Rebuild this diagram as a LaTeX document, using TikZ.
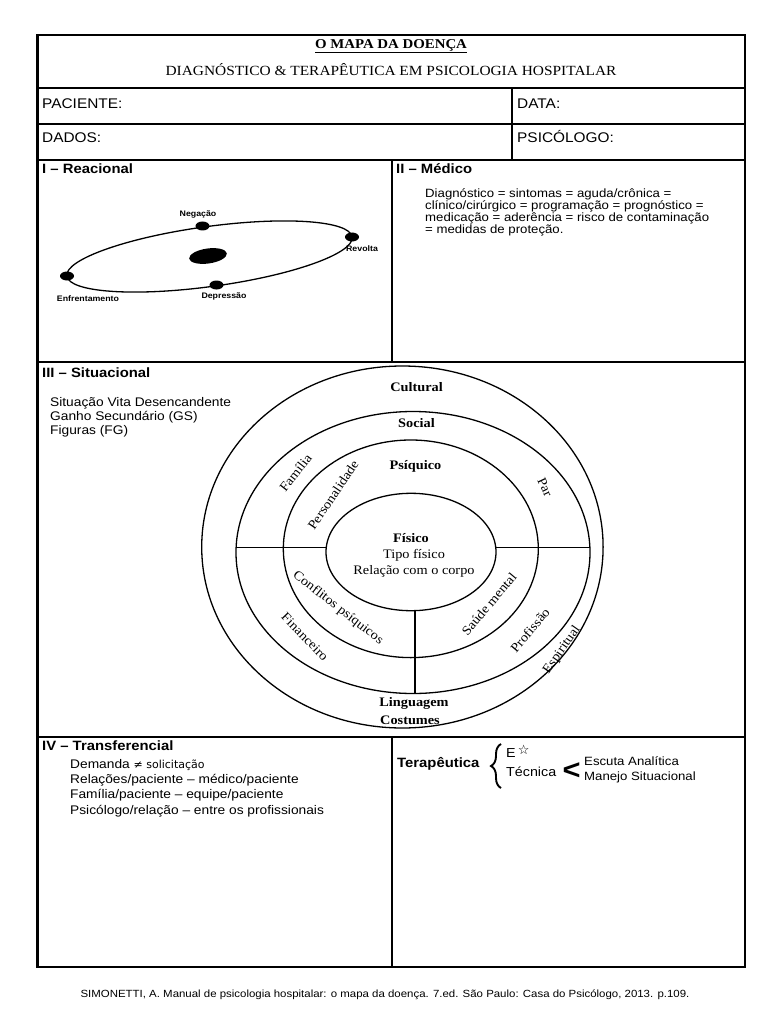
\documentclass[tikz,border=0pt]{standalone}
\usepackage{fontspec}
\setmainfont{Liberation Sans}[FakeStretch=1.1]
\newfontfamily\timesfont{Liberation Serif}[FakeStretch=1.1]
\newfontfamily\dejafont{DejaVu Sans}
\usetikzlibrary{shapes, positioning, calc, decorations.pathreplacing}
\newcommand\tightskip{\lineskiplimit=-6pt\relax}

\begin{document}
\begin{tikzpicture}[
        x=1pt, y=-1pt,
        frame/.style={line width=2.4pt},
        rule/.style={line width=1.6pt},
        ring/.style={line width=1.3pt},
        formtext/.style={anchor=base west, inner sep=0pt, font=\fontsize{14}{16}\selectfont},
        heading/.style={anchor=base west, inner sep=0pt, font=\fontsize{13.5}{16}\selectfont\bfseries},
        bodytext/.style={anchor=base west, inner sep=0pt, align=left},
        phase/.style={inner sep=0pt, font=\fontsize{8}{9}\selectfont\bfseries},
        dot/.style={ellipse, fill=black, minimum width=14pt, minimum height=9pt, inner sep=0pt},
        layer/.style={inner sep=0pt, font=\timesfont\fontsize{13}{15}\selectfont\bfseries},
        item/.style={inner sep=0pt, font=\timesfont\fontsize{13}{15}\selectfont}
    ]
        \useasboundingbox (0,0) rectangle (768,1024);

        % Form frame and rules
        \draw[frame] (37.5,35) rectangle (745,967);
        \draw[rule] (37.5,88) -- (745,88);
        \draw[rule] (37.5,124) -- (745,124);
        \draw[rule] (37.5,160) -- (745,160);
        \draw[rule] (512,88) -- (512,160);
        \draw[rule] (392,160) -- (392,362);
        \draw[rule] (37.5,362) -- (745,362);
        \draw[rule] (37.5,737) -- (745,737);
        \draw[rule] (392,737) -- (392,967);

        % Title
        \node[font=\timesfont\fontsize{13.5}{16}\selectfont\bfseries] (title) at (391,46) {\underline{O MAPA DA DOENÇA}};
        \node[font=\timesfont\fontsize{14}{16}\selectfont] (subtitle) at (391,70) {DIAGNÓSTICO \& TERAPÊUTICA EM PSICOLOGIA HOSPITALAR};

        % Identification fields
        \node[formtext] (paciente) at (42,109) {PACIENTE:};
        \node[formtext] (data) at (517,109) {DATA:};
        \node[formtext] (dados) at (42,143) {DADOS:};
        \node[formtext] (psicologo) at (517,143) {PSICÓLOGO:};

        % I - Reacional
        \node[heading] (reacional) at (42,174) {I – Reacional};
        \coordinate (orbit) at (209.5,256.5);
        \draw[ring, rotate around={7.8:(orbit)}] (orbit) ellipse [x radius=144, y radius=30];
        \node[dot, minimum width=38pt, minimum height=15pt, rotate=8] (core) at (208,256) {};
        \node[dot] (negacao) at (202.5,226) {};
        \node[dot] (revolta) at (352,237) {};
        \node[dot] (enfrent) at (67,276) {};
        \node[dot] (depressao) at (216.5,285) {};
        \node[phase] (negacaolbl) at (198,214) {Negação};
        \node[phase] (revoltalbl) at (362,249) {Revolta};
        \node[phase] (enfrentlbl) at (88,299) {Enfrentamento};
        \node[phase] (depressaolbl) at (224,296) {Depressão};

        % II - Medico (anchor on last baseline)
        \node[heading] (medico) at (396,174) {II – Médico};
        \node[bodytext, font=\fontsize{12}{11.8}\selectfont\tightskip] (medtext) at (425,233.4) {Diagnóstico = sintomas = aguda/crônica =\\clínico/cirúrgico = programação = prognóstico =\\medicação = aderência = risco de contaminação\\= medidas de proteção.};

        % III - Situacional
        \node[heading] (situacional) at (42,377) {III – Situacional};
        \node[bodytext, font=\fontsize{12.5}{14.2}\selectfont\tightskip] (sittext) at (50,434.5) {Situação Vita Desencandente\\Ganho Secundário (GS)\\Figuras (FG)};

        \draw[ring] (402.4,547) ellipse [x radius=200.7, y radius=181];
        \draw[ring] (413,552.5) ellipse [x radius=177, y radius=141];
        \draw[ring] (410.8,548.8) ellipse [x radius=127.5, y radius=108.8];
        \draw[ring] (411,552) ellipse [x radius=85, y radius=58.7];
        \draw[ring] (236,547.7) -- (326,547.7);
        \draw[ring] (496,547.7) -- (590,547.7);
        \draw[ring] (415,610.6) -- (415,693.5);

        \node[layer] (cultural) at (416.5,387) {Cultural};
        \node[layer] (social) at (416.5,423) {Social};
        \node[layer] (psiquico) at (415.5,466) {Psíquico};
        \node[layer] (fisico) at (411,538.5) {Físico};
        \node[item] (tipo) at (414,555) {Tipo físico};
        \node[item] (corpo) at (414,571) {Relação com o corpo};
        \node[item, rotate=52] (familia) at (295.5,473) {Família};
        \node[item, rotate=56] (personal) at (333,495) {Personalidade};
        \node[item, rotate=-65] (par) at (545,487) {Par};
        \node[item, rotate=-38] (conflitos) at (338,608) {Conflitos psíquicos};
        \node[item, rotate=-46] (financeiro) at (305,637) {Financeiro};
        \node[item, rotate=50] (saude) at (489,604) {Saúde mental};
        \node[item, rotate=50] (profissao) at (530,630) {Profissão};
        \node[item, rotate=55] (espiritual) at (562,650) {Espiritual};
        \node[layer] (linguagem) at (414,703.5) {Linguagem};
        \node[layer] (costumes) at (410,720) {Costumes};

        % IV - Transferencial
        \node[heading] (transfer) at (42,750) {IV – Transferencial};
        \node[bodytext, font=\fontsize{12.5}{15.3}\selectfont\tightskip] (transtext) at (70,814) {Demanda {\dejafont\fontsize{11}{13}\selectfont ≠ solicitação}\\Relações/paciente – médico/paciente\\Família/paciente – equipe/paciente\\Psicólogo/relação – entre os profissionais};

        % Terapeutica
        \node[heading] (terap) at (397,767) {Terapêutica};
        \coordinate (bracelow) at (501,788);
        \coordinate (bracetop) at (501,744);
        \draw[line width=1.9pt, decorate, decoration={brace, amplitude=10pt}] (bracelow) -- (bracetop);
        \node[anchor=base west, inner sep=0pt, font=\fontsize{13}{15}\selectfont] (estrela) at (506,757) {E\,{\dejafont\fontsize{13}{13}\selectfont\bfseries\raisebox{2.5pt}{☆}}};
        \node[anchor=base west, inner sep=0pt, font=\fontsize{13}{15}\selectfont] (tecnica) at (506,776) {Técnica};
        \node[inner sep=0pt, font=\fontsize{28}{28}\selectfont\bfseries] (menor) at (571.5,771) {<};
        \node[anchor=base west, inner sep=0pt, font=\fontsize{12}{14}\selectfont] (escuta) at (584,765) {Escuta Analítica};
        \node[anchor=base west, inner sep=0pt, font=\fontsize{12}{14}\selectfont] (manejo) at (584,780) {Manejo Situacional};

        % Source
        \node[font=\fontsize{10.4}{12}\selectfont] (source) at (385,995) {SIMONETTI, A. Manual de psicologia hospitalar: o mapa da doença. 7.ed. São Paulo: Casa do Psicólogo, 2013. p.109.};

    \end{tikzpicture}
\end{document}
